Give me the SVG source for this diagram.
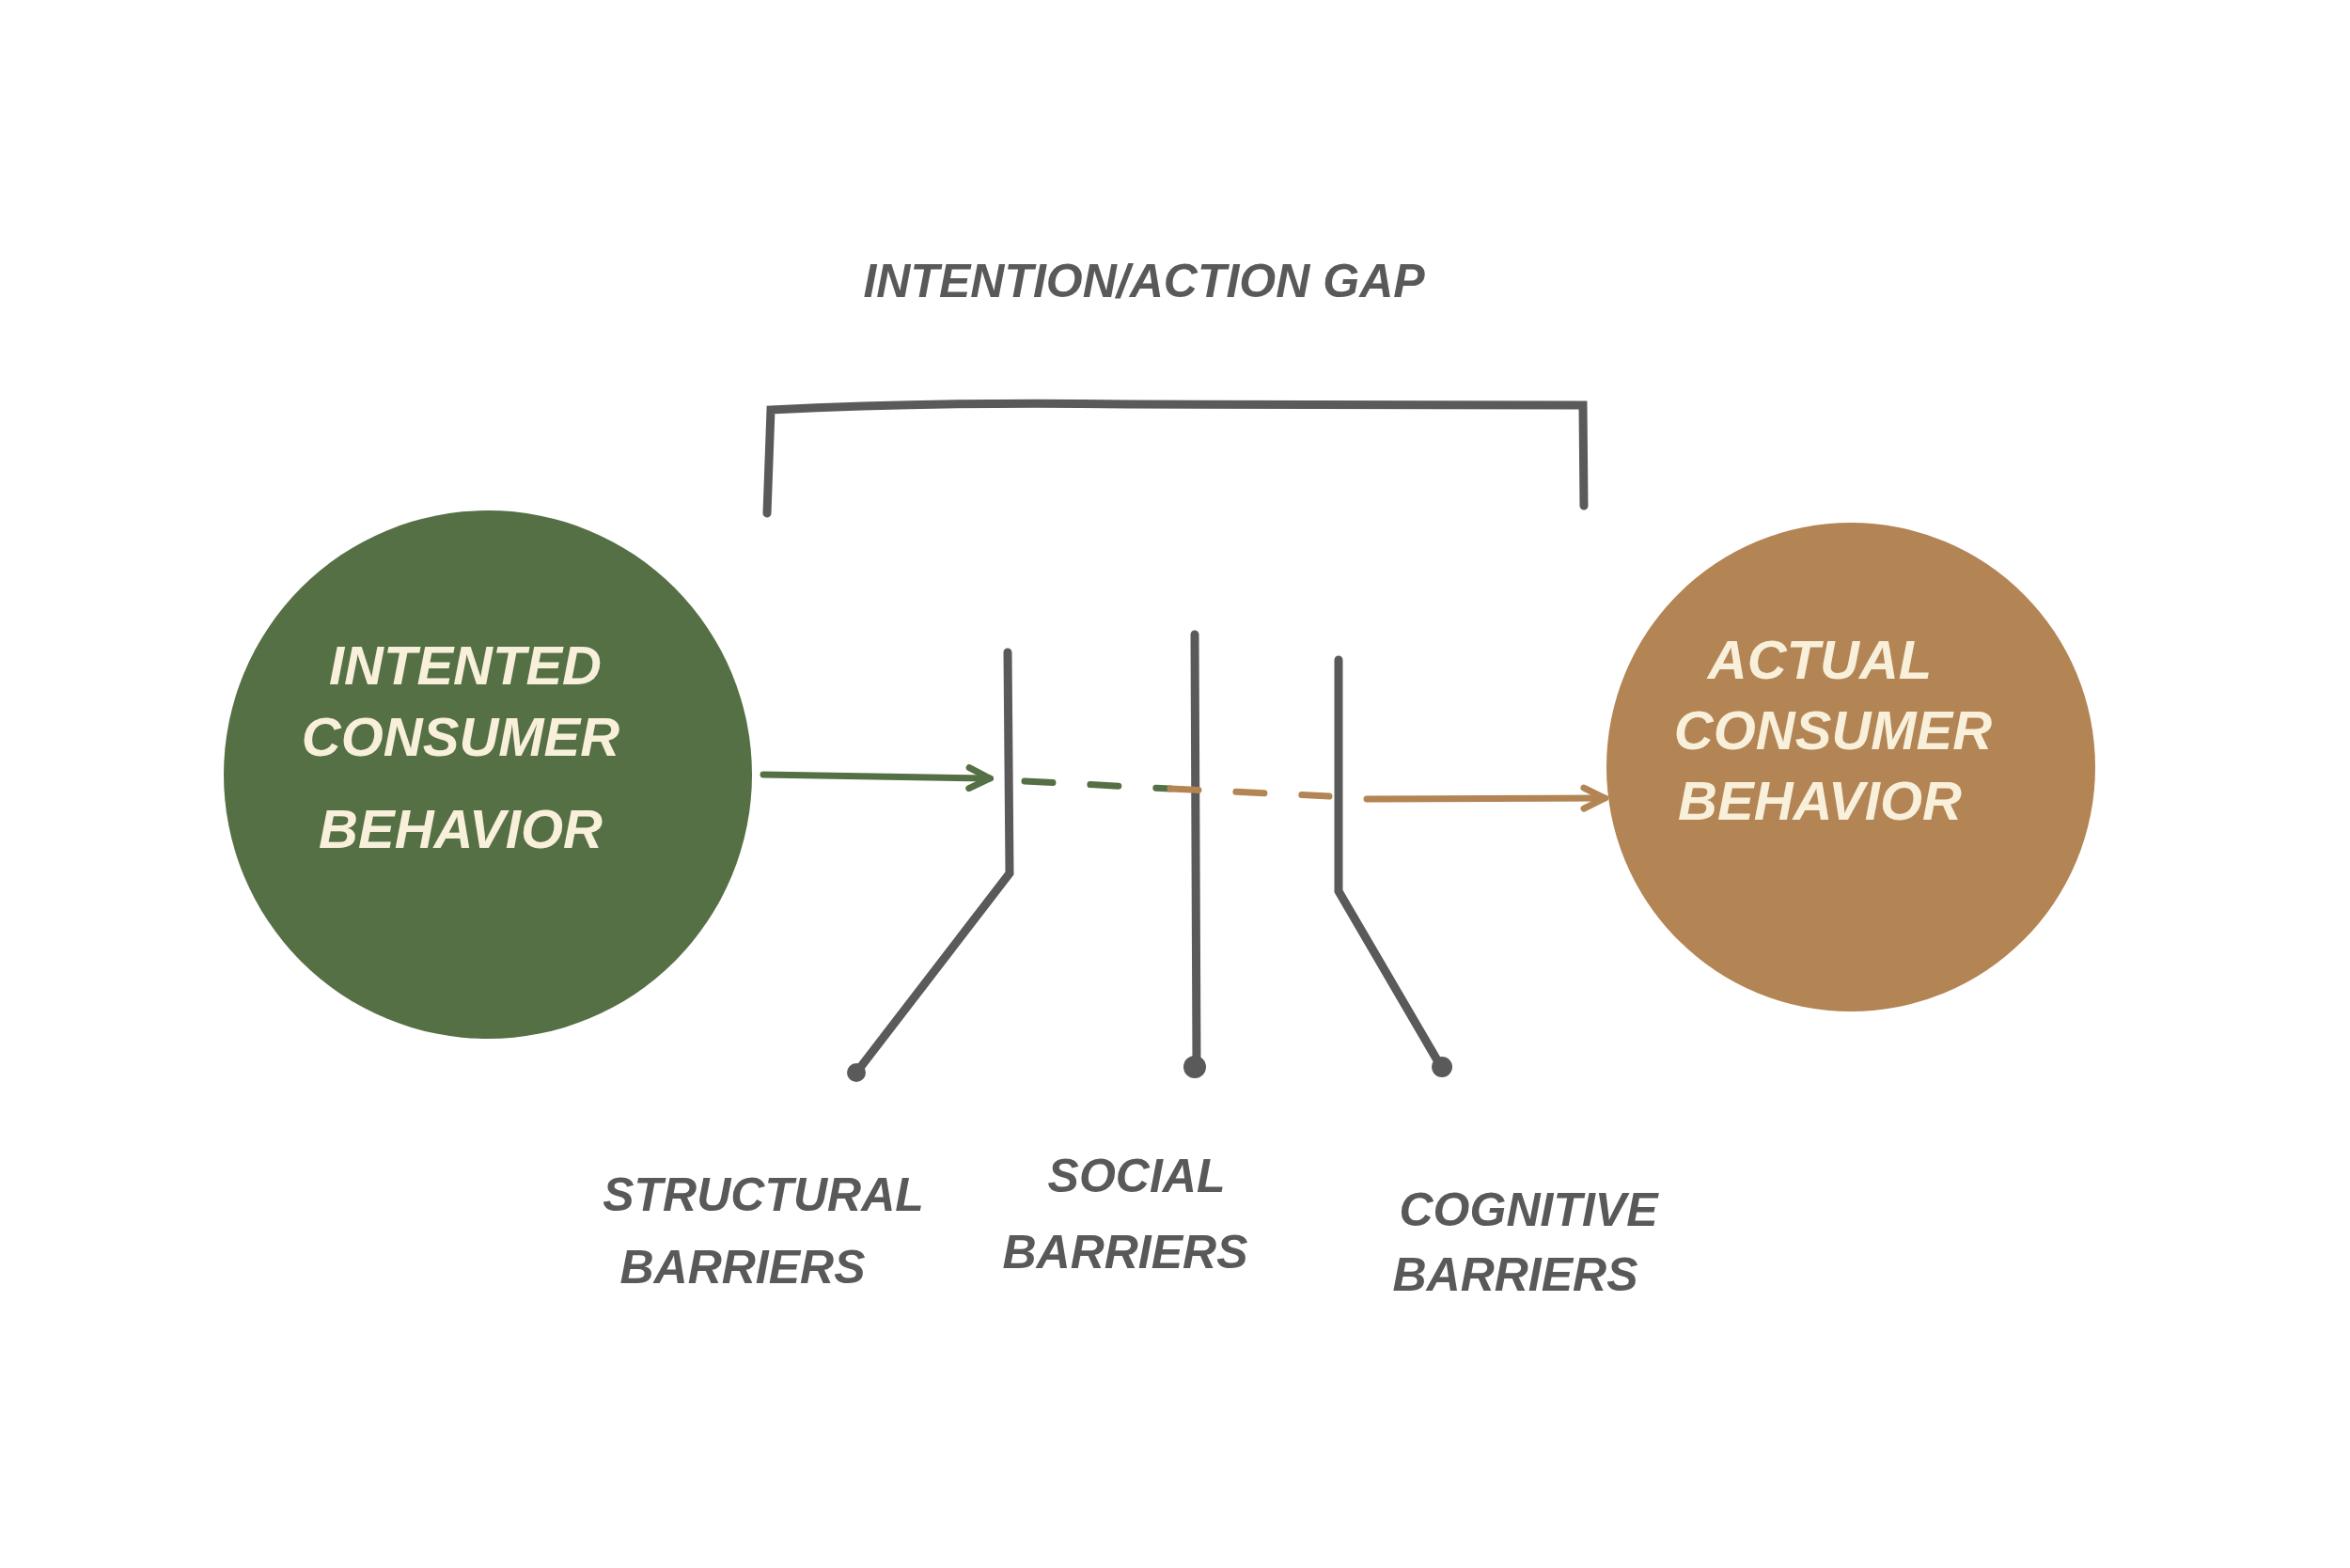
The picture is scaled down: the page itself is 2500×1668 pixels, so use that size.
<svg xmlns="http://www.w3.org/2000/svg" width="2500" height="1668" viewBox="0 0 2500 1668">
<style>
.t{font-family:"Liberation Sans",Arial,sans-serif;font-weight:bold;font-style:italic;text-anchor:middle}
.lab{fill:#595959;font-size:50px}
.in{fill:#f8f0da;font-size:58px}
.g{stroke:#5a5a5a;stroke-width:9;fill:none;stroke-linecap:round}
</style>
<defs>
<marker id="ag" markerWidth="30" markerHeight="30" refX="26" refY="15" orient="auto" markerUnits="userSpaceOnUse" viewBox="0 0 30 30"><path d="M4,4 L26,15 L4,26" fill="none" stroke="#557044" stroke-width="7" stroke-linecap="round"/></marker>
<marker id="ao" markerWidth="30" markerHeight="30" refX="26" refY="15" orient="auto" markerUnits="userSpaceOnUse" viewBox="0 0 30 30"><path d="M4,4 L26,15 L4,26" fill="none" stroke="#b38454" stroke-width="7" stroke-linecap="round"/></marker>
</defs>
<rect width="2500" height="1668" fill="#ffffff"/>
<g id="title"><text class="t lab" x="1217" y="316" font-size="60">INTENTION/ACTION GAP</text></g>
<g id="bracket"><path class="g" d="M816,546 L820,436 Q1000,427 1200,430 L1684,431 L1685,538" stroke-width="5"/></g>
<g id="intended"><circle cx="519" cy="824" r="281" fill="#557044"/>
<text class="t in" x="495" y="728">INTENTED</text><text class="t in" x="490" y="804">CONSUMER</text><text class="t in" x="490" y="902">BEHAVIOR</text></g>
<g id="actual"><circle cx="1969" cy="816" r="260" fill="#b38454"/>
<text class="t in" x="1936" y="722">ACTUAL</text><text class="t in" x="1950" y="797">CONSUMER</text><text class="t in" x="1936" y="872">BEHAVIOR</text></g>
<g id="structural"><path class="g" d="M1072,694 L1074,929 L911,1141"/><circle cx="911" cy="1141" r="10" fill="#5a5a5a"/>
<text class="t lab" x="812" y="1288">STRUCTURAL</text><text class="t lab" x="790" y="1365">BARRIERS</text></g>
<g id="social"><path class="g" d="M1271,675 L1273,1133" stroke-width="11"/><circle cx="1271" cy="1135" r="12" fill="#5a5a5a"/>
<text class="t lab" x="1209" y="1268">SOCIAL</text><text class="t lab" x="1197" y="1349">BARRIERS</text></g>
<g id="cognitive"><path class="g" d="M1424,702 L1424,948 L1532,1133"/><circle cx="1534" cy="1135" r="11" fill="#5a5a5a"/>
<text class="t lab" x="1626" y="1304">COGNITIVE</text><text class="t lab" x="1612" y="1373">BARRIERS</text></g>
<g id="connectors" fill="none" stroke-width="7" stroke-linecap="round">
<path d="M812,824 L1053,828" stroke="#557044" marker-end="url(#ag)"/>
<path d="M1090,831 L1245,839" stroke="#557044" stroke-dasharray="30,40"/>
<path d="M1245,839 L1414,847" stroke="#b38454" stroke-dasharray="30,40"/>
<path d="M1454,850 L1707,849" stroke="#b38454" marker-end="url(#ao)"/>
</g>
</svg>
